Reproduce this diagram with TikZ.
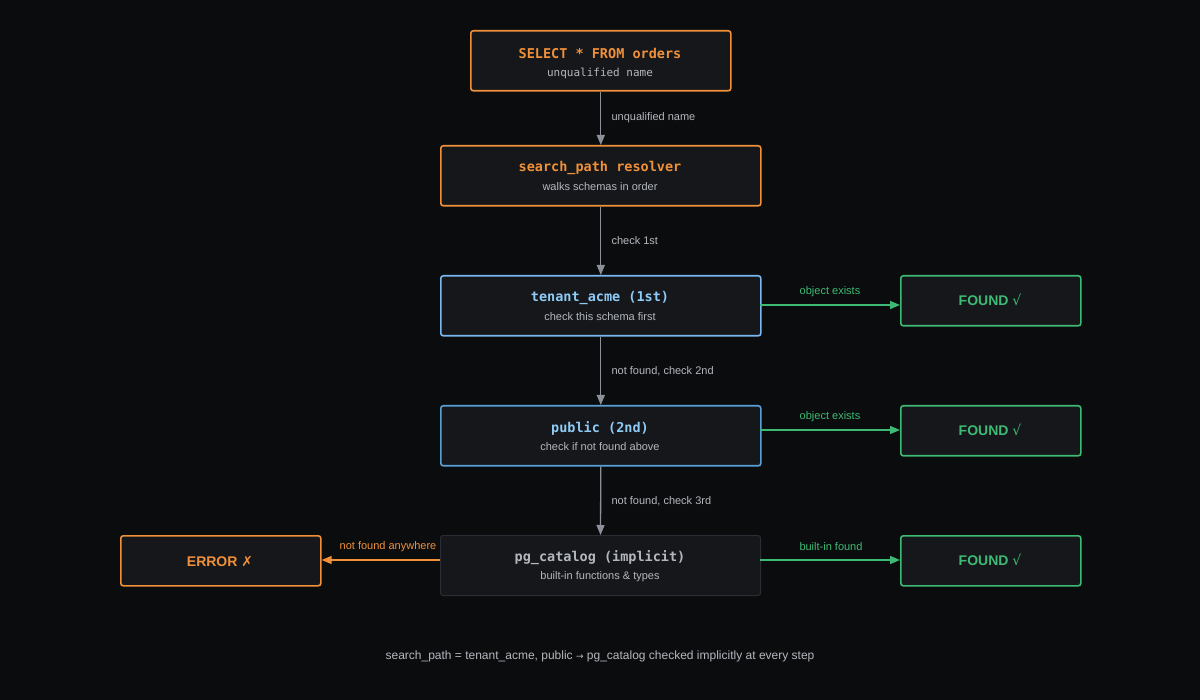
\documentclass[tikz,border=0pt]{standalone}
\usepackage{fontspec}
\setmainfont{Liberation Sans}
\newfontfamily\monob{DejaVu Sans Mono}
\newfontfamily\dejavu{DejaVu Sans}
\usetikzlibrary{arrows.meta}
\definecolor{bg}{HTML}{0B0C0E}
\definecolor{boxf}{HTML}{15171B}
\definecolor{org}{HTML}{F0913A}
\definecolor{blu}{HTML}{79B8F0}
\definecolor{blu2}{HTML}{5A9FD6}
\definecolor{blut}{HTML}{8ECBF5}
\definecolor{grn}{HTML}{3DBB74}
\definecolor{gry}{HTML}{8B9099}
\definecolor{sub}{HTML}{B4B8BE}
\definecolor{dkb}{HTML}{2A2D33}
\begin{document}
\begin{tikzpicture}[x=1pt,y=-1pt,
 box/.style={draw,line width=1.6pt,rounded corners=2.5pt,fill=boxf,anchor=north west,inner sep=0pt},
 ttl/.style={font=\monob\bfseries\fontsize{13.5}{15}\selectfont},
 sb/.style={font=\fontsize{11}{13}\selectfont,text=sub},
 lbl/.style={font=\fontsize{11}{13}\selectfont,anchor=west},
 arr/.style={line width=1.3pt,-{Triangle[length=10pt,width=8pt]}},
 res/.style={font=\bfseries\fontsize{14}{16}\selectfont}]
\fill[bg] (0,0) rectangle (1200,700);
\useasboundingbox (0,0) rectangle (1200,700);
\node[box,draw=org,minimum width=260pt,minimum height=60pt] (q) at (470,30) {};
\node[ttl,text=org] at (600,53) {SELECT * FROM orders};
\node[font=\monob\fontsize{11}{13}\selectfont,text=sub] at (600,73) {unqualified name};
\node[box,draw=org,minimum width=320pt,minimum height=60pt] (r) at (440,145) {};
\node[ttl,text=org] at (600,168) {search\_path resolver};
\node[sb] at (600,187) {walks schemas in order};
\node[box,draw=blu,minimum width=320pt,minimum height=60pt] (t) at (440,275) {};
\node[ttl,text=blut] at (600,298) {tenant\_acme (1st)};
\node[sb] at (600,317) {check this schema first};
\node[box,draw=blu2,minimum width=320pt,minimum height=60pt] (p) at (440,405) {};
\node[ttl,text=blut] at (600,428) {public (2nd)};
\node[sb] at (600,447) {check if not found above};
\node[box,draw=dkb,line width=1pt,minimum width=320pt,minimum height=60pt] (c) at (440,535) {};
\node[ttl,text=sub] at (600,558) {pg\_catalog (implicit)};
\node[sb] at (600,577) {built-in functions \& types};
\foreach \n/\y in {f1/275,f2/405,f3/535}{
 \node[box,draw=grn,minimum width=180pt,minimum height=50pt] (\n) at (900,\y) {};
 \node[res,text=grn] at (990,\y+25) {FOUND {\dejavu\mdseries √}};}
\node[box,draw=org,minimum width=200pt,minimum height=50pt] (e) at (120,535) {};
\node[res,text=org] at (220,561) {ERROR {\dejavu\mdseries\itshape ✗}};
\draw[arr,gry] (q.south) -- (r.north);
\draw[arr,gry] (r.south) -- (t.north);
\draw[arr,gry] (t.south) -- (p.north);
\draw[arr,gry] (p.south) -- (c.north);
\node[lbl,text=sub] at (608,118) {unqualified name};
\node[lbl,text=sub] at (608,241) {check 1st};
\node[lbl,text=sub] at (608,371) {not found, check 2nd};
\node[lbl,text=sub] at (608,501) {not found, check 3rd};
\draw[arr,grn] (760,305) -- (f1.west|-0,305);
\draw[arr,grn] (760,430) -- (f2.west|-0,430);
\draw[arr,grn] (760,560) -- (f3.west|-0,560);
\draw[arr,org] (440,560) -- (e.east|-0,560);
\node[font=\fontsize{11}{13}\selectfont,text=grn] at (830,292) {object exists};
\node[font=\fontsize{11}{13}\selectfont,text=grn] at (830,417) {object exists};
\node[font=\fontsize{11}{13}\selectfont,text=grn] at (831,547) {built-in found};
\node[font=\fontsize{11}{13}\selectfont,text=org] at (388,547) {not found anywhere};
\node[font=\fontsize{12}{14}\selectfont,text=sub] at (600,656) {search\_path = tenant\_acme, public {\dejavu\fontsize{9}{10}\selectfont →} pg\_catalog checked implicitly at every step};
\end{tikzpicture}
\end{document}
